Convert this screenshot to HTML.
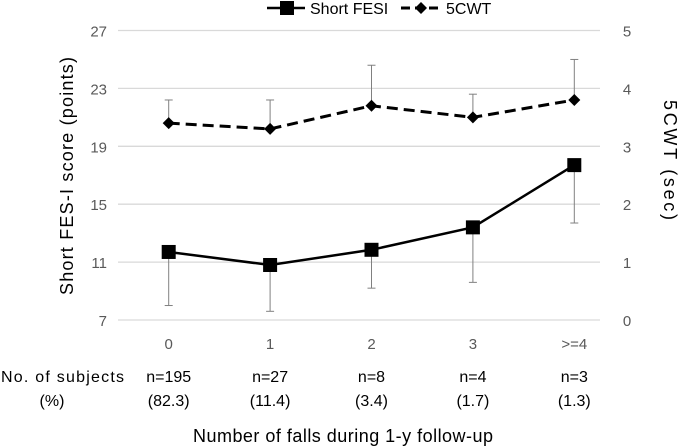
<!DOCTYPE html>
<html><head><meta charset="utf-8"><style>
body{margin:0;background:#fff;}
svg{display:block;font-family:"Liberation Sans","Noto Sans CJK JP",sans-serif;}
</style></head><body>
<svg id="chart" width="685" height="448" viewBox="0 0 685 448" xmlns="http://www.w3.org/2000/svg">
<g id="grid"></g><g id="series"></g><g id="labels"></g>
</svg>
<script>
const categories=["0","1","2","3",">=4"];
const nSubjects=["n=195","n=27","n=8","n=4","n=3"];
const pctSubjects=["(82.3)","(11.4)","(3.4)","(1.7)","(1.3)"];
const fesiValues=[11.7,10.8,11.85,13.4,17.7];
const fesiSD=[3.7,3.2,2.65,3.8,4.0];
const cwtValues=[3.4,3.3,3.7,3.5,3.8];
const cwtSD=[0.4,0.5,0.7,0.4,0.7];
const leftTicks=[7,11,15,19,23,27];
const rightTicks=[0,1,2,3,4,5];
const NS="http://www.w3.org/2000/svg";
const x0=118,x1=625,yTop=30.5,yBot=320;
const xS=i=>x0+(x1-x0)*(i+0.5)/categories.length;
const yL=v=>yBot-(v-7)/(27-7)*(yBot-yTop);
const yR=v=>yBot-v/5*(yBot-yTop);
function mk(tag,attrs,parent,text){const e=document.createElementNS(NS,tag);for(const k in attrs)e.setAttribute(k,attrs[k]);if(text!==undefined)e.textContent=text;parent.appendChild(e);return e;}
const grid=document.getElementById('grid'),ser=document.getElementById('series'),lab=document.getElementById('labels');
leftTicks.forEach((t,i)=>{
 const l=mk('line',{x1:x0,x2:x1-25,y1:yL(t),y2:yL(t),stroke:'#d9d9d9','stroke-width':1.3},grid);
 
 
 const a=mk('text',{x:107,y:yL(t)+6,'text-anchor':'end','font-size':15,fill:'#595959'},lab,t);
 
 
});
rightTicks.forEach(t=>{
 const a=mk('text',{x:627,y:yR(t)+6,'text-anchor':'middle','font-size':15,fill:'#595959'},lab,t);
 
 
});
categories.forEach((c,i)=>{
 const a=mk('text',{x:xS(i),y:349,'text-anchor':'middle','font-size':15,fill:'#595959'},lab,c);
 
 
 const b=mk('text',{x:xS(i),y:382,'text-anchor':'middle','font-size':16,fill:'#000'},lab,nSubjects[i]);
 
 
 const d=mk('text',{x:xS(i),y:406,'text-anchor':'middle','font-size':16,fill:'#000'},lab,pctSubjects[i]);
 
 
});
fesiValues.forEach((v,i)=>{
 const e=mk('line',{x1:xS(i),x2:xS(i),y1:yL(v),y2:yL(v-fesiSD[i]),stroke:'#808080','stroke-width':1},ser);
 
 
 mk('line',{x1:xS(i)-4,x2:xS(i)+4,y1:yL(v-fesiSD[i]),y2:yL(v-fesiSD[i]),stroke:'#808080','stroke-width':1},ser);
});
cwtValues.forEach((v,i)=>{
 const e=mk('line',{x1:xS(i),x2:xS(i),y1:yR(v),y2:yR(v+cwtSD[i]),stroke:'#808080','stroke-width':1},ser);
 
 
 mk('line',{x1:xS(i)-4,x2:xS(i)+4,y1:yR(v+cwtSD[i]),y2:yR(v+cwtSD[i]),stroke:'#808080','stroke-width':1},ser);
});
const fl=mk('polyline',{points:fesiValues.map((v,i)=>xS(i)+','+yL(v)).join(' '),fill:'none',stroke:'#000','stroke-width':2.5},ser);


const cl=mk('polyline',{points:cwtValues.map((v,i)=>xS(i)+','+yR(v)).join(' '),fill:'none',stroke:'#000','stroke-width':3,'stroke-dasharray':'11,6'},ser);


fesiValues.forEach((v,i)=>{
 const m=mk('rect',{x:xS(i)-7,y:yL(v)-7,width:14,height:14,fill:'#000'},ser);
 
 
});
cwtValues.forEach((v,i)=>{
 const x=xS(i),y=yR(v);
 const m=mk('polygon',{points:`${x},${y-6} ${x+6},${y} ${x},${y+6} ${x-6},${y}`,fill:'#000'},ser);
 
 
});
</script>
<svg style="position:absolute;left:0;top:0" width="685" height="448" xmlns="http://www.w3.org/2000/svg">
<g>
<line x1="267" y1="8" x2="305" y2="8" stroke="#000" stroke-width="2.5"/>
<rect x="280" y="1" width="14" height="14" fill="#000"/>
<text x="310" y="14" font-size="16" fill="#000" font-family="Liberation Sans, sans-serif">Short FESI</text>
</g>
<g>
<line x1="401" y1="8" x2="441" y2="8" stroke="#000" stroke-width="3" stroke-dasharray="9,5"/>
<polygon points="421,2 427,8 421,14 415,8" fill="#000"/>
<text x="446" y="14" font-size="16" fill="#000" font-family="Liberation Sans, sans-serif">5CWT</text>
</g>
<text transform="translate(73,176) rotate(-90)" text-anchor="middle" font-size="18" textLength="238" font-family="Liberation Sans, sans-serif">Short FES-I score (points)</text>
<text transform="translate(664,160) rotate(90)" text-anchor="middle" font-size="18" textLength="120" font-family="Liberation Sans, sans-serif">5CWT (sec)</text>
<text x="1" y="382" font-size="16" textLength="123" font-family="Liberation Sans, sans-serif">No. of subjects</text>
<text x="52" y="406" font-size="16" text-anchor="middle" font-family="Liberation Sans, sans-serif">(%)</text>
<text x="343" y="442" text-anchor="middle" font-size="18" textLength="300" font-family="Liberation Sans, sans-serif">Number of falls during 1-y follow-up</text>
</svg>
</body></html>
